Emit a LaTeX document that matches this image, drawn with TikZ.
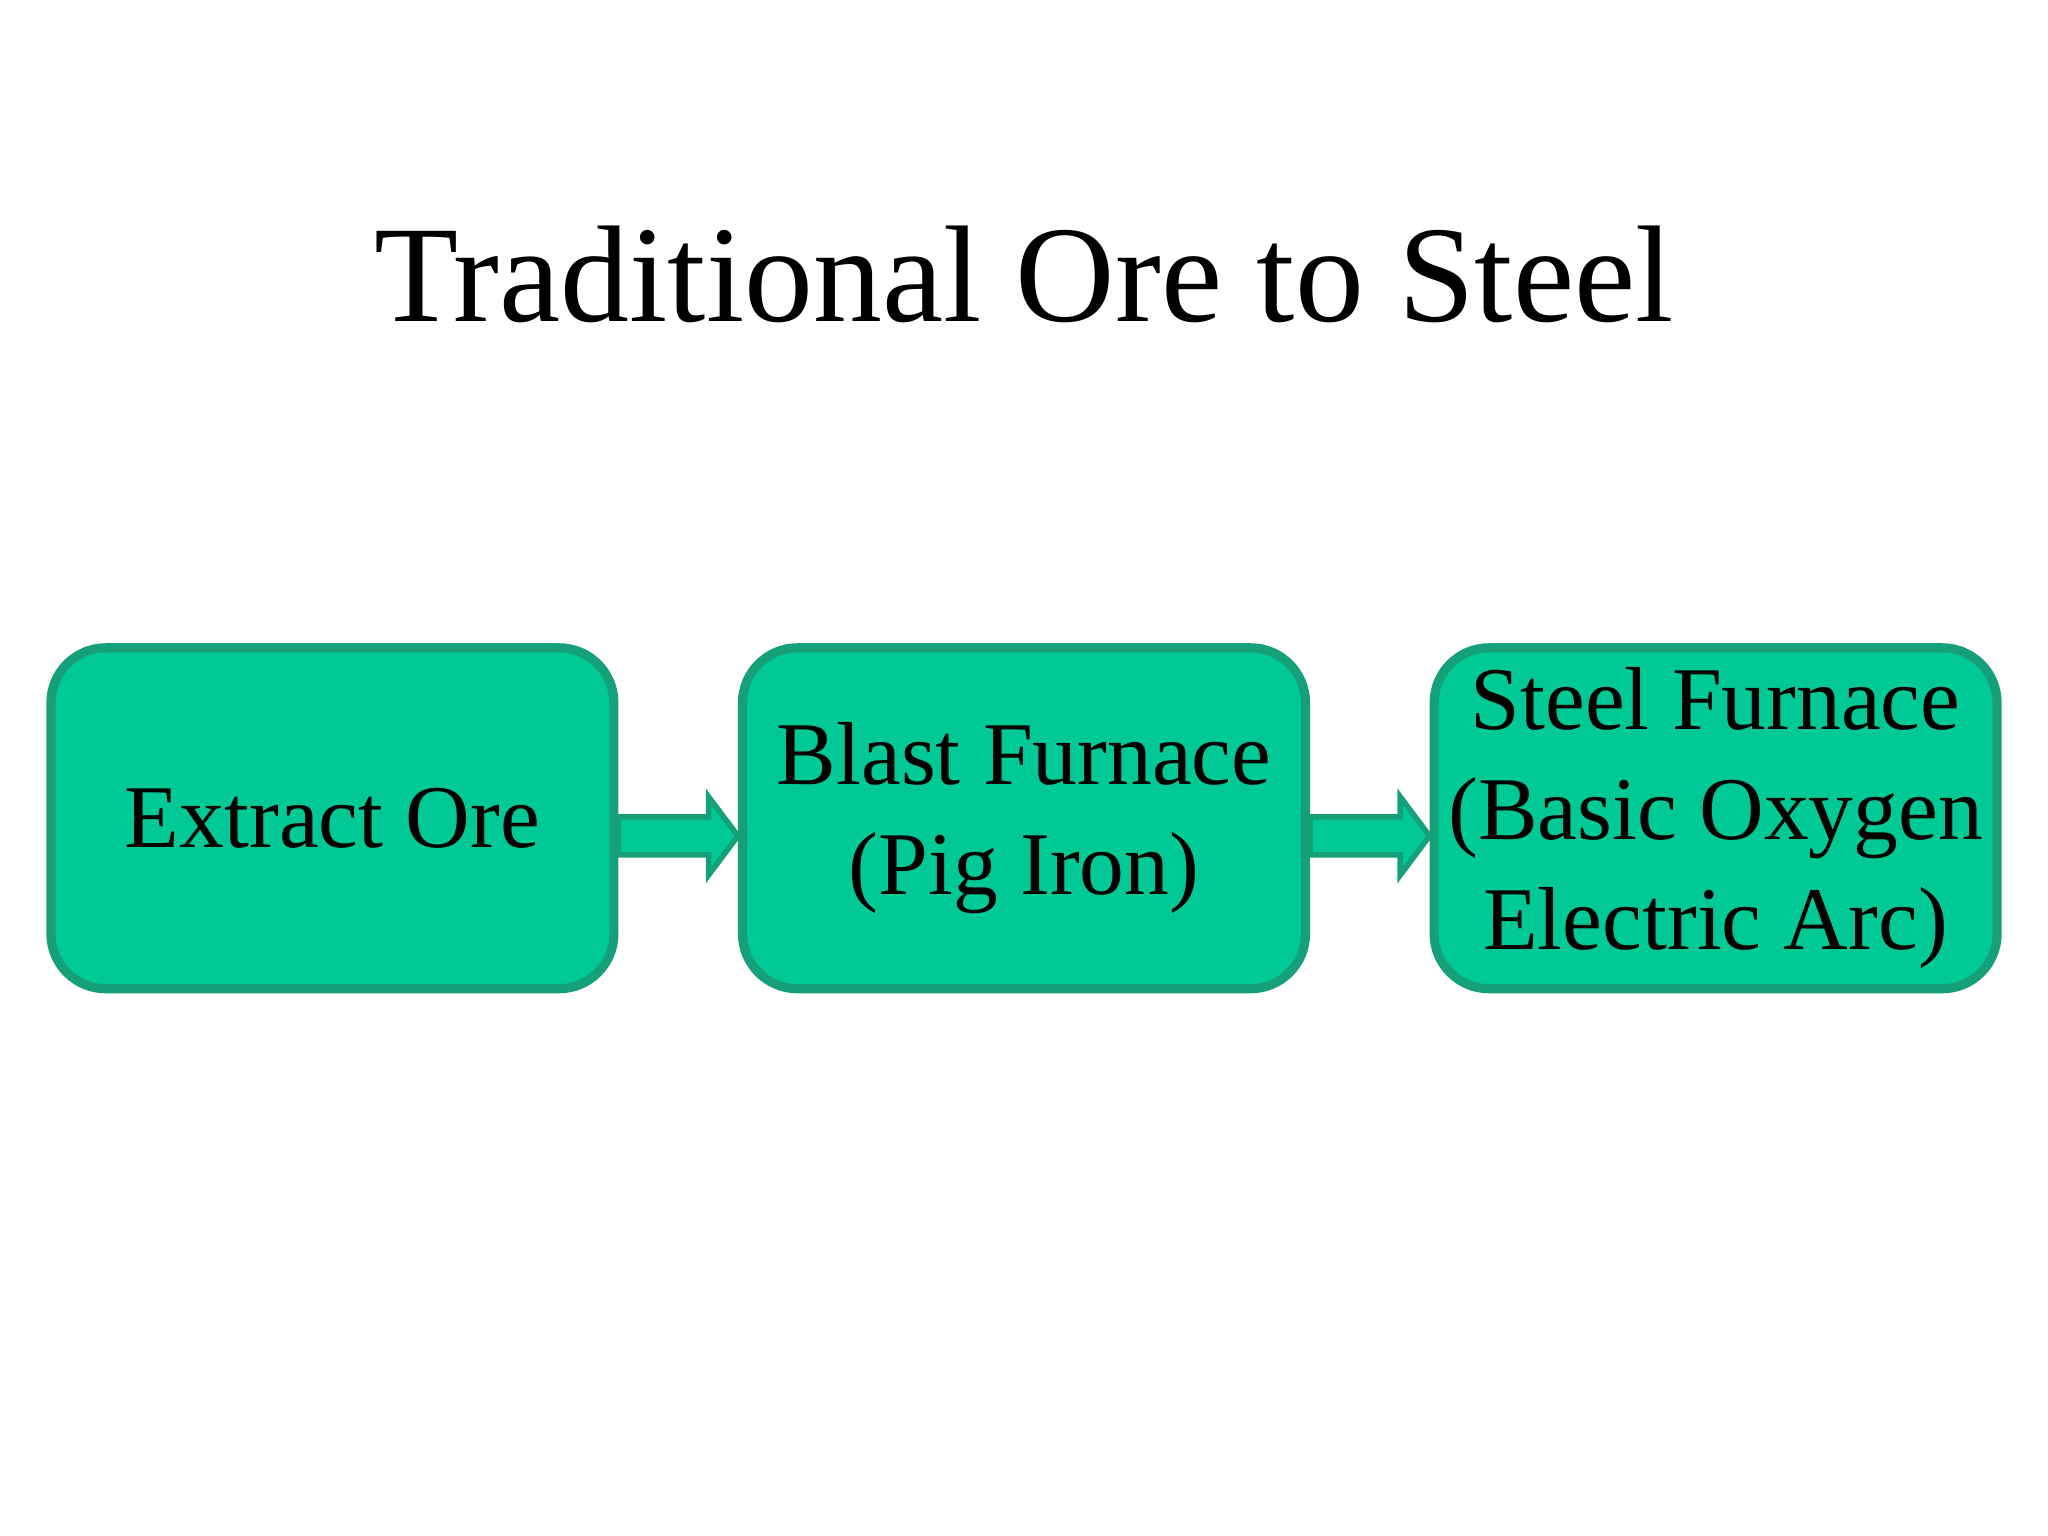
\documentclass[tikz,border=0pt]{standalone}
\usepackage{fontspec}
\setmainfont{Liberation Serif}
\usetikzlibrary{calc}
\definecolor{boxfill}{HTML}{00C996}
\definecolor{boxline}{HTML}{16A07A}
\tikzset{
 procbox/.style={draw=boxline,line width=2pt,fill=boxfill,rounded corners=0.42cm,minimum width=4.31cm,minimum height=2.61cm,align=center,font=\fontsize{19.5}{24}\selectfont,inner sep=0pt},
 arr/.style={draw=boxline,line width=1.2pt,fill=boxfill}
}
\begin{document}
\begin{tikzpicture}
\useasboundingbox (0,0) rectangle (15.68,-11.76);
\node[font=\fontsize{30}{36}\selectfont] (title) at (7.84,-2.1) {Traditional Ore to Steel};
\node[procbox] (a) at (2.545,-6.265) {Extract Ore};
\node[procbox] (b) at (7.84,-6.265) {Blast Furnace\\(Pig Iron)};
\node[procbox] (c) at (13.135,-6.265) {Steel Furnace\\(Basic Oxygen\\Electric Arc)};
\foreach \s/\t in {a/b,b/c}{
 \draw[arr] ($(\s.east)+(0,0.01)$) -- ++(0.69,0) -- ++(0,0.155) -- ($(\t.west)+(0,-0.135)$) -- ($(\s.east)+(0.69,-0.435)$) -- ++(0,0.155) -- ++(-0.69,0) -- cycle;
}
\end{tikzpicture}
\end{document}
